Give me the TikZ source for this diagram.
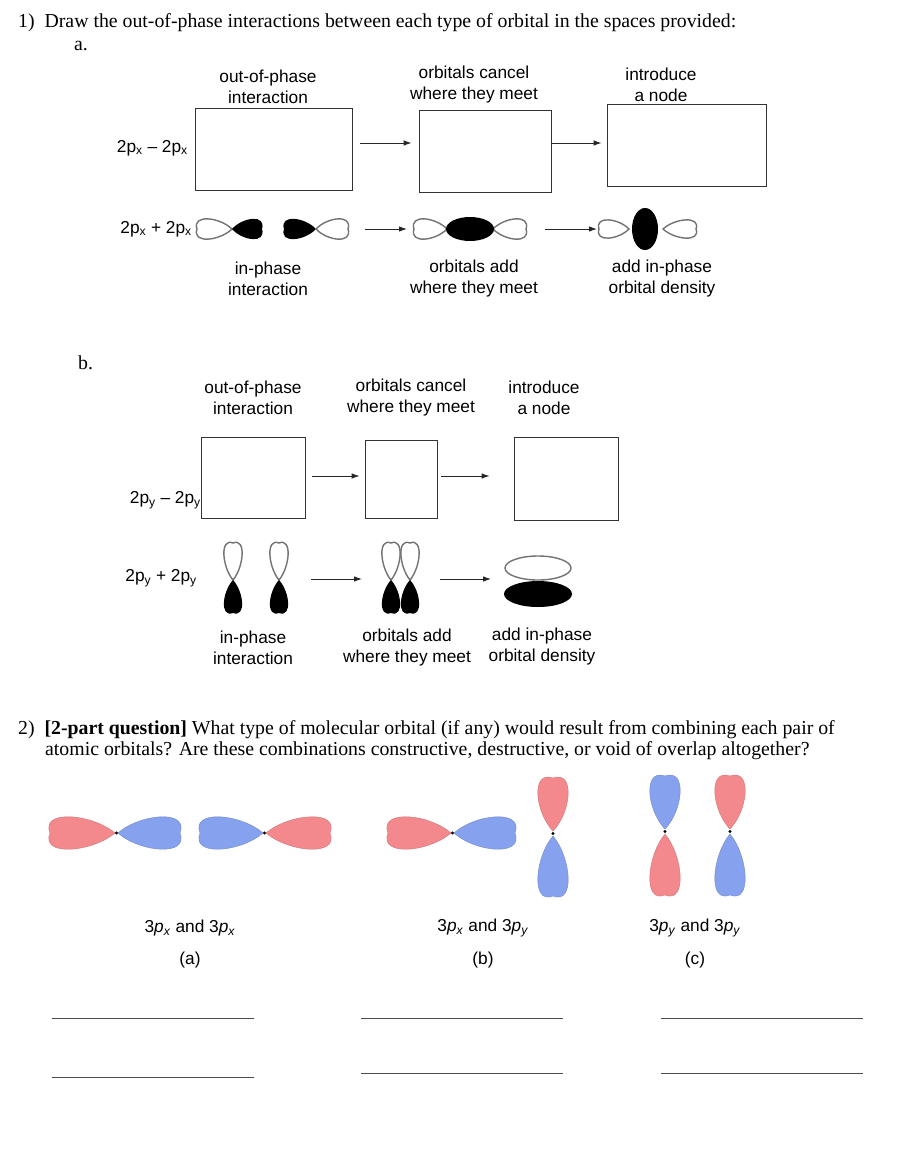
\documentclass[tikz,border=0pt]{standalone}
\usepackage{fontspec}
\setmainfont{Liberation Serif}
\newfontfamily\lblfont{Liberation Sans}
\usetikzlibrary{calc,arrows.meta,positioning}
\definecolor{pinkc}{HTML}{F4898D}
\definecolor{bluec}{HTML}{86A2EE}
\tikzset{
  lbl/.style={font=\lblfont\fontsize{17.3}{21}\selectfont,align=center,inner sep=0pt},
  ttl/.style={font=\fontsize{19.8}{23}\selectfont,anchor=west,inner sep=0pt},
  box/.style={draw=black!80,line width=0.8pt,inner sep=0pt},
  arr/.style={-{Latex[length=8pt,width=5.5pt]},line width=0.9pt,black!85},
  open/.style={draw=black!55,line width=1.4pt,fill=white},
  full/.style={fill=black},
  pk/.style={fill=pinkc,draw=pinkc!85!black,line width=0.4pt},
  bl/.style={fill=bluec,draw=bluec!85!black,line width=0.4pt},
  answer/.style={line width=0.6pt,black!70},
}
% lobe: position, angle, length, half width, style
\newcommand{\lobe}[5]{%
  \path[#5,shift={#1},rotate=#2] (0,0) .. controls (0.35*#3,1.2*#4) and (1.15*#3,1.5*#4) .. (#3,0)
    .. controls (1.15*#3,-1.5*#4) and (0.35*#3,-1.2*#4) .. (0,0) -- cycle;}
\newcommand{\pxsub}[1]{\textsubscript{#1}}
\begin{document}
\begin{tikzpicture}[x=1pt,y=-1pt]
  \useasboundingbox[fill=white] (0,0) rectangle (899,1172);
  % question 1
  \node[ttl] (q1) at (18,23) {1)\ \ Draw the out-of-phase interactions between each type of orbital in the spaces provided:};
  \node[ttl] (qa) at (74,46) {a.};
  \node[lbl] (ta1) at (268,87) {out-of-phase\\interaction};
  \node[lbl] (ta2) at (474,85) {orbitals cancel\\where they meet};
  \node[lbl] (ta3) at (661,85) {introduce\\a node};
  \node[box,minimum width=157pt,minimum height=82pt] (ba1) at (273.5,149) {};
  \node[box,minimum width=132pt,minimum height=82pt] (ba2) at (485,151) {};
  \node[box,minimum width=159pt,minimum height=82pt] (ba3) at (686.5,145) {};
  \draw[arr] ($(ba1.east |- 0,143)+(8,0)$) -- ($(ba2.west |- 0,143)+(-7,0)$);
  \draw[arr] (ba2.east |- 0,143) -- ($(ba3.west |- 0,143)+(-5,0)$);
  \node[lbl,anchor=east] (la1) at (188,148) {2p\pxsub{x} – 2p\pxsub{x}};
  \node[lbl,anchor=east] (la2) at (192,229) {2p\pxsub{x} + 2p\pxsub{x}};
  % 2px orbitals
  \lobe{(232,229)}{180}{35}{10}{open}
  \lobe{(232,229)}{0}{30}{10}{full}
  \lobe{(316,229)}{180}{32}{10}{full}
  \lobe{(316,229)}{0}{32}{10}{open}
  \coordinate (oa1) at (365,229);
  \coordinate (oa2) at (407,229);
  \draw[arr] (oa1) -- (oa2);
  \lobe{(447,229)}{180}{33}{10}{open}
  \lobe{(493,229)}{0}{33}{10}{open}
  \fill (470,229) ellipse (24 and 12);
  \coordinate (oa3) at (545,229);
  \coordinate (oa4) at (597,229);
  \draw[arr] (oa3) -- (oa4);
  \lobe{(629,229)}{180}{30}{9}{open}
  \lobe{(663,229)}{0}{33}{9}{open}
  \fill (645,229) ellipse (13 and 21);
  \node[lbl] (tb1) at (268,279) {in-phase\\interaction};
  \node[lbl] (tb2) at (474,279) {orbitals add\\where they meet};
  \node[lbl] (tb3) at (662,279) {add in-phase\\orbital density};
  % part b
  \node[ttl] (qb) at (78,363) {b.};
  \node[lbl] (tc1) at (253,398) {out-of-phase\\interaction};
  \node[lbl] (tc2) at (411,398) {orbitals cancel\\where they meet};
  \node[lbl] (tc3) at (544,398) {introduce\\a node};
  \node[box,minimum width=104pt,minimum height=81pt] (bb1) at (253,477.5) {};
  \node[box,minimum width=72pt,minimum height=78pt] (bb2) at (401,479) {};
  \node[box,minimum width=104pt,minimum height=83pt] (bb3) at (566,478.5) {};
  \draw[arr] ($(bb1.east |- 0,476)+(7,0)$) -- ($(bb2.west |- 0,476)+(-5,0)$);
  \draw[arr] ($(bb2.east |- 0,476)+(4,0)$) -- ($(bb3.west |- 0,476)+(-24,0)$);
  \node[lbl,anchor=east] (lb1) at (201,500) {2p\pxsub{y} – 2p\pxsub{y}};
  \node[lbl,anchor=east] (lb2) at (197,578) {2p\pxsub{y} + 2p\pxsub{y}};
  % 2py orbitals
  \foreach \cx in {233,279,391,410} {
    \lobe{(\cx,580)}{90}{37}{9}{open}
  }
  \foreach \cx in {233,279,391,410} {
    \lobe{(\cx,580)}{-90}{33}{9}{full}
  }
  \coordinate (ob1) at (311,579);
  \coordinate (ob2) at (362,579);
  \draw[arr] (ob1) -- (ob2);
  \coordinate (ob3) at (440,579);
  \coordinate (ob4) at (491,579);
  \draw[arr] (ob3) -- (ob4);
  \draw[open] (538,568) ellipse (33 and 12);
  \fill (538,594) ellipse (34 and 13);
  \node[lbl] (td1) at (253,648) {in-phase\\interaction};
  \node[lbl] (td2) at (407,648) {orbitals add\\where they meet};
  \node[lbl] (td3) at (542,647) {add in-phase\\orbital density};
  % question 2
  \node[ttl] (q2) at (18,730) {2)\ \ \textbf{[2-part question]} What type of molecular orbital (if any) would result from combining each pair of};
  \node[ttl] (q2b) at (45,751) {atomic orbitals? Are these combinations constructive, destructive, or void of overlap altogether?};
  % (a)
  \lobe{(115,833)}{180}{65}{16}{pk}
  \lobe{(118,833)}{0}{62}{16}{bl}
  \fill (116.5,833) circle (1.6);
  \lobe{(263,833)}{180}{63}{16}{bl}
  \lobe{(266,833)}{0}{64}{16}{pk}
  \fill (264.5,833) circle (1.6);
  % (b)
  \lobe{(451,833)}{180}{63}{16}{pk}
  \lobe{(454,833)}{0}{61}{16}{bl}
  \fill (452.5,833) circle (1.6);
  \lobe{(553,831)}{90}{53}{15}{pk}
  \lobe{(553,836)}{-90}{60}{15}{bl}
  \fill (553,833.5) circle (1.6);
  % (c)
  \lobe{(665,829)}{90}{53}{15}{bl}
  \lobe{(665,834)}{-90}{61}{15}{pk}
  \fill (665,831.5) circle (1.6);
  \lobe{(730,829)}{90}{53}{15}{pk}
  \lobe{(730,834)}{-90}{61}{15}{bl}
  \fill (730,831.5) circle (1.6);
  \node[lbl] (ca) at (190,928) {3\textit{p}\pxsub{\textit{x}} and 3\textit{p}\pxsub{\textit{x}}};
  \node[lbl] (cb) at (483,928) {3\textit{p}\pxsub{\textit{x}} and 3\textit{p}\pxsub{\textit{y}}};
  \node[lbl] (cc) at (695,928) {3\textit{p}\pxsub{\textit{y}} and 3\textit{p}\pxsub{\textit{y}}};
  \node[lbl] (pa) at (190,960) {(a)};
  \node[lbl] (pb) at (483,960) {(b)};
  \node[lbl] (pc) at (695,960) {(c)};
  % answer lines
  \foreach \xa/\ya in {52/1018,361/1018,661/1018,52/1077,361/1073,661/1073} {
    \draw[answer] (\xa,\ya) -- ++(202,0);
  }
\end{tikzpicture}
\end{document}
